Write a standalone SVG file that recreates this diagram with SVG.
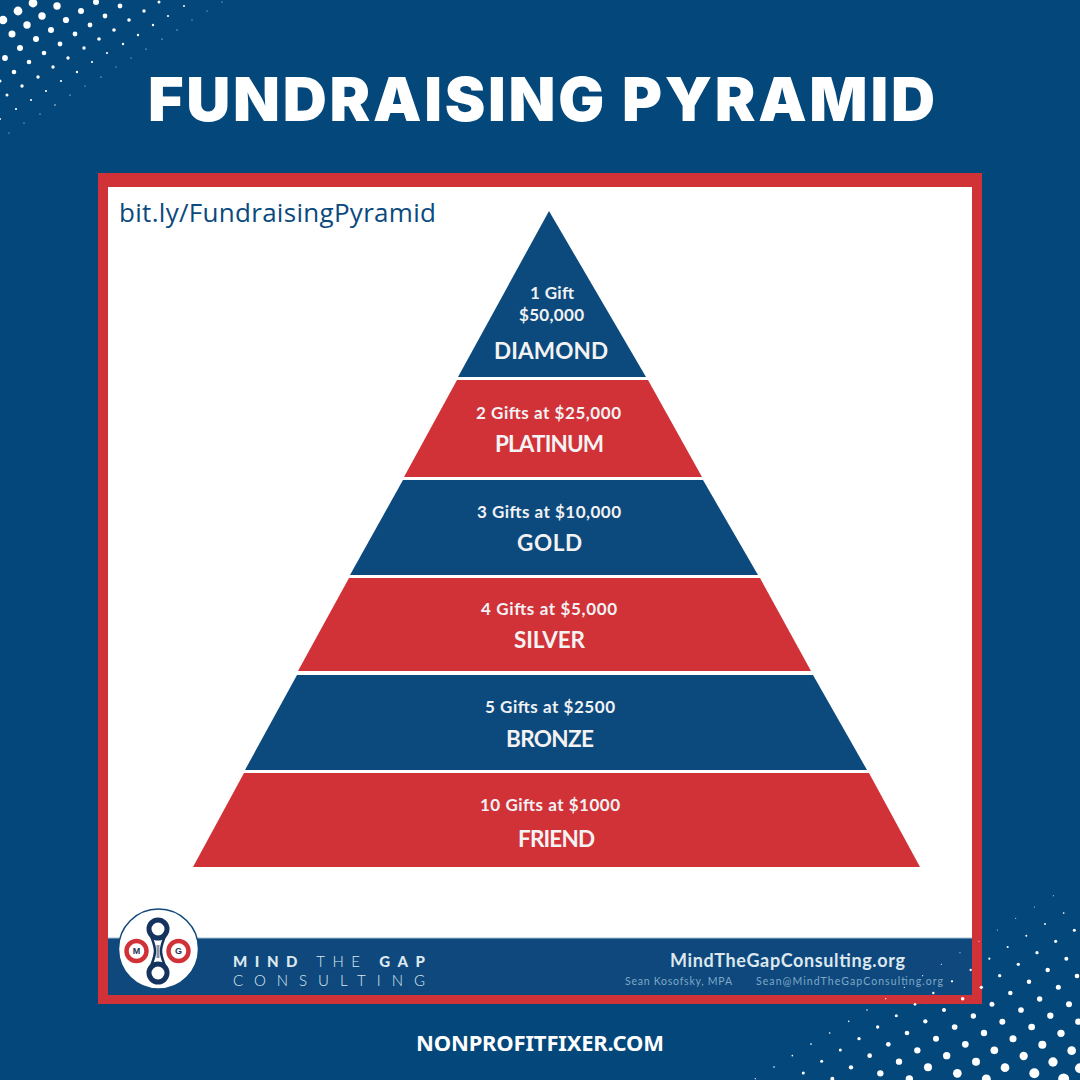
<svg xmlns="http://www.w3.org/2000/svg" width="1080" height="1080" viewBox="0 0 1080 1080">
<style>
.navy{fill:#0c4a7e}.red{fill:#d13238}
.sm{font-family:"Lato","Noto Sans",sans-serif;font-weight:700;font-size:17px;fill:#f1f2f4}
.lg{font-family:"Lato","Noto Sans",sans-serif;font-weight:700;font-size:22.5px;fill:#f4f2f3}
.dots circle{fill:#fff}
</style>
<rect width="1080" height="1080" fill="#04477b"/>
<text id="title" x="148" y="121" textLength="787" font-family="Inter,'Noto Sans',sans-serif" font-weight="900" font-size="61" fill="#fff">FUNDRAISING PYRAMID</text>
<g id="panel">
<rect x="98" y="173" width="884" height="831" fill="#d13238"/>
<rect x="108" y="187" width="864" height="751" fill="#fff"/>
<rect x="108" y="938" width="864" height="57" fill="#0e487c"/>
<rect x="108" y="937.500" width="864" height="1" fill="#9fc0d2"/>
</g>
<text id="url" x="119" y="222" textLength="317" font-family="'Open Sans','Noto Sans',sans-serif" font-size="26" fill="#0b4a7e">bit.ly/FundraisingPyramid</text>
<g id="tier-diamond">
<polygon class="navy" points="549,211 646,377 458,377"/>
<text class="sm" x="530" y="299" textLength="44">1 Gift</text>
<text class="sm" x="519" y="321" textLength="65">$50,000</text>
<text class="lg" x="494" y="359" textLength="114">DIAMOND</text>
</g>
<g id="tier-platinum">
<polygon class="red" points="457,380 648,380 702,477 404,477"/>
<text class="sm" x="476" y="419" textLength="145">2 Gifts at $25,000</text>
<text class="lg" x="495" y="452" textLength="109">PLATINUM</text>
</g>
<g id="tier-gold">
<polygon class="navy" points="403,480 703,480 758,575 350,575"/>
<text class="sm" x="477" y="518" textLength="144">3 Gifts at $10,000</text>
<text class="lg" x="517" y="551" textLength="65">GOLD</text>
</g>
<g id="tier-silver">
<polygon class="red" points="349,578 760,578 811,671 298,671"/>
<text class="sm" x="481" y="615" textLength="136">4 Gifts at $5,000</text>
<text class="lg" x="514" y="648" textLength="71">SILVER</text>
</g>
<g id="tier-bronze">
<polygon class="navy" points="297,675 813,675 867,770 245,770"/>
<text class="sm" x="485" y="713" textLength="130">5 Gifts at $2500</text>
<text class="lg" x="506" y="747" textLength="88">BRONZE</text>
</g>
<g id="tier-friend">
<polygon class="red" points="244,773 869,773 920,867 193,867"/>
<text class="sm" x="480" y="811" textLength="140">10 Gifts at $1000</text>
<text class="lg" x="518" y="847" textLength="77">FRIEND</text>
</g>
<g id="logo">
<circle cx="158.500" cy="949" r="40" fill="#fff" stroke="#12487c" stroke-width="1.500"/>
<path d="M151 936C154 944 155 946 155 951C155 956 154 958 151 966M165 936C162 944 161 946 161 951C161 956 162 958 165 966" fill="none" stroke="#14335f" stroke-width="2.500"/>
<circle cx="158" cy="929" r="9" fill="#fff" stroke="#14335f" stroke-width="5"/>
<circle cx="158" cy="973" r="9" fill="#fff" stroke="#14335f" stroke-width="5"/>
<circle cx="136.500" cy="951" r="10" fill="#fff" stroke="#d13238" stroke-width="4.500"/>
<circle cx="178.500" cy="951" r="10" fill="#fff" stroke="#d13238" stroke-width="4.500"/>
<rect x="156.500" y="945" width="3" height="13" fill="#8a95a3"/>
<text x="136.500" y="954" text-anchor="middle" font-family="'Liberation Sans',sans-serif" font-weight="700" font-size="9" fill="#26344f">M</text>
<text x="178.500" y="954" text-anchor="middle" font-family="'Liberation Sans',sans-serif" font-weight="700" font-size="9" fill="#26344f">G</text>
</g>
<g id="brand" font-family="Lato,'Noto Sans',sans-serif" fill="#dbe8ef">
<text x="233" y="967" textLength="192" font-size="15" font-weight="900"><tspan>MIND </tspan><tspan font-weight="300">THE </tspan><tspan>GAP</tspan></text>
<text x="233" y="986" textLength="192" font-size="15" font-weight="300">CONSULTING</text>
</g>
<g id="contact" font-family="Lato,'Noto Sans',sans-serif">
<text x="670" y="967" textLength="235" font-size="18" font-weight="700" fill="#dce7ef">MindTheGapConsulting.org</text>
<text x="625" y="985" textLength="107" font-size="10.500" fill="#7fa8c8">Sean Kosofsky, MPA</text>
<text x="756" y="985" textLength="187" font-size="10.500" fill="#7fa8c8">Sean@MindTheGapConsulting.org</text>
</g>
<text id="footer" x="416" y="1051" textLength="248" font-family="'Noto Sans',sans-serif" font-weight="700" font-size="22" fill="#fff">NONPROFITFIXER.COM</text>
<g id="dots-top-left" class="dots">
<circle cx="222" cy="2" r=".5"/>
<circle cx="159" cy="2" r="1.500"/><circle cx="184" cy="6" r="1"/><circle cx="207" cy="11" r=".5"/>
<circle cx="96" cy="2" r="3"/><circle cx="120" cy="6" r="2.400"/><circle cx="144" cy="11" r="1.700"/><circle cx="168" cy="16" r="1.100"/><circle cx="192" cy="20" r=".5"/>
<circle cx="33" cy="3" r="4.400"/><circle cx="57" cy="6" r="3.700"/><circle cx="81" cy="11" r="3"/><circle cx="105" cy="16" r="2.400"/><circle cx="129" cy="20" r="1.800"/><circle cx="153" cy="25" r="1.200"/><circle cx="177" cy="30" r=".6"/>
<circle cx="18" cy="11" r="4.400"/><circle cx="42" cy="16" r="3.700"/><circle cx="66" cy="20" r="3.100"/><circle cx="90" cy="25" r="2.400"/><circle cx="114" cy="30" r="1.800"/><circle cx="138" cy="35" r="1.200"/><circle cx="162" cy="39" r=".6"/>
<circle cx="3" cy="20" r="4.300"/><circle cx="27" cy="25" r="3.700"/><circle cx="51" cy="30" r="3"/><circle cx="75" cy="34" r="2.400"/><circle cx="99" cy="39" r="1.800"/><circle cx="123" cy="44" r="1.200"/><circle cx="146" cy="49" r=".6"/>
<circle cx="12" cy="34" r="3.500"/><circle cx="36" cy="39" r="3"/><circle cx="60" cy="44" r="2.400"/><circle cx="84" cy="48" r="1.700"/><circle cx="107" cy="53" r="1.100"/><circle cx="131" cy="58" r=".5"/>
<circle cx="20" cy="48" r="3"/><circle cx="44" cy="53" r="2.300"/><circle cx="68" cy="58" r="1.700"/><circle cx="92" cy="62" r="1.100"/><circle cx="116" cy="67" r=".5"/>
<circle cx="5" cy="58" r="2.900"/><circle cx="29" cy="62" r="2.300"/><circle cx="53" cy="67" r="1.700"/><circle cx="77" cy="72" r="1.200"/><circle cx="101" cy="77" r=".6"/>
<circle cx="14" cy="72" r="2.300"/><circle cx="38" cy="77" r="1.700"/><circle cx="61" cy="81" r="1.100"/><circle cx="85" cy="86" r=".5"/>
<circle cx="0" cy="81" r="1.500"/><circle cx="22" cy="86" r="1.700"/><circle cx="46" cy="91" r="1.100"/><circle cx="70" cy="95" r=".6"/>
<circle cx="7" cy="95" r="1.500"/><circle cx="31" cy="100" r="1.100"/><circle cx="55" cy="105" r=".7"/>
<circle cx="16" cy="109" r="1.100"/><circle cx="40" cy="114" r=".6"/>
<circle cx="0" cy="119" r="1"/><circle cx="24" cy="123" r=".5"/><circle cx="9" cy="133" r=".5"/>
</g>
<g id="dots-bottom-right" class="dots" transform="translate(600 880) scale(.33333)">
<circle cx="1360" cy="47" r="1.500"/><circle cx="1303" cy="81" r="1.500"/><circle cx="1391" cy="99" r="2.600"/><circle cx="1247" cy="115" r="1.500"/><circle cx="1335" cy="132" r="2.800"/><circle cx="1423" cy="151" r="4.500"/>
<circle cx="1192" cy="150" r="1.500"/><circle cx="1279" cy="167" r="3"/><circle cx="1367" cy="184" r="4.700"/>
<circle cx="1137" cy="184" r="1.600"/><circle cx="1223" cy="201" r="3.200"/><circle cx="1311" cy="218" r="4.900"/><circle cx="1399" cy="236" r="6"/>
<circle cx="1080" cy="218" r="1.600"/><circle cx="1168" cy="236" r="3.300"/><circle cx="1255" cy="253" r="5"/><circle cx="1343" cy="270" r="6.600"/><circle cx="1431" cy="288" r="7"/>
<circle cx="1024" cy="253" r="1.700"/><circle cx="1112" cy="270" r="3.400"/><circle cx="1199" cy="287" r="5"/><circle cx="1287" cy="305" r="6.700"/><circle cx="1375" cy="322" r="7.500"/>
<circle cx="968" cy="287" r="1.800"/><circle cx="1056" cy="304" r="3.500"/><circle cx="1144" cy="322" r="5.100"/><circle cx="1231" cy="339" r="6.800"/><circle cx="1319" cy="357" r="8"/><circle cx="1407" cy="373" r="9"/>
<circle cx="913" cy="322" r="2"/><circle cx="1000" cy="339" r="3.600"/><circle cx="1088" cy="356" r="5.300"/><circle cx="1176" cy="373" r="7.500"/><circle cx="1263" cy="390" r="8.500"/><circle cx="1351" cy="407" r="9.500"/><circle cx="1435" cy="425" r="9.500"/>
<circle cx="857" cy="356" r="2.100"/><circle cx="945" cy="373" r="4"/><circle cx="1032" cy="390" r="6"/><circle cx="1120" cy="408" r="8"/><circle cx="1207" cy="425" r="9"/><circle cx="1295" cy="441" r="10"/><circle cx="1383" cy="460" r="11"/>
<circle cx="801" cy="390" r="2.300"/><circle cx="889" cy="407" r="4.500"/><circle cx="976" cy="424" r="6.500"/><circle cx="1064" cy="441" r="8.500"/><circle cx="1152" cy="459" r="9.500"/><circle cx="1239" cy="476" r="10.600"/><circle cx="1327" cy="494" r="12"/><circle cx="1415" cy="512" r="13"/>
<circle cx="746" cy="424" r="2.400"/><circle cx="833" cy="441" r="5"/><circle cx="921" cy="459" r="7"/><circle cx="1008" cy="476" r="9"/><circle cx="1096" cy="493" r="10"/><circle cx="1183" cy="511" r="11.500"/><circle cx="1271" cy="528" r="12.500"/><circle cx="1359" cy="546" r="14"/><circle cx="1440" cy="565" r="15"/>
<circle cx="689" cy="459" r="2.500"/><circle cx="777" cy="476" r="5"/><circle cx="865" cy="493" r="7"/><circle cx="952" cy="511" r="9.500"/><circle cx="1040" cy="527" r="11"/><circle cx="1128" cy="545" r="12"/><circle cx="1215" cy="563" r="13"/><circle cx="1303" cy="580" r="15"/><circle cx="1391" cy="597" r="16.500"/>
<circle cx="633" cy="492" r="2.600"/><circle cx="721" cy="510" r="4.500"/><circle cx="809" cy="527" r="7"/><circle cx="897" cy="545" r="9.500"/><circle cx="984" cy="562" r="12"/><circle cx="1072" cy="580" r="13"/><circle cx="1159" cy="597" r="13.500"/>
<circle cx="577" cy="527" r="2.500"/><circle cx="665" cy="544" r="4.500"/><circle cx="753" cy="562" r="6.500"/><circle cx="841" cy="580" r="9.500"/><circle cx="928" cy="597" r="11"/>
<circle cx="522" cy="561" r="2.500"/><circle cx="610" cy="579" r="4.500"/><circle cx="697" cy="596" r="6"/><circle cx="466" cy="596" r="2"/>
</g>
</svg>
